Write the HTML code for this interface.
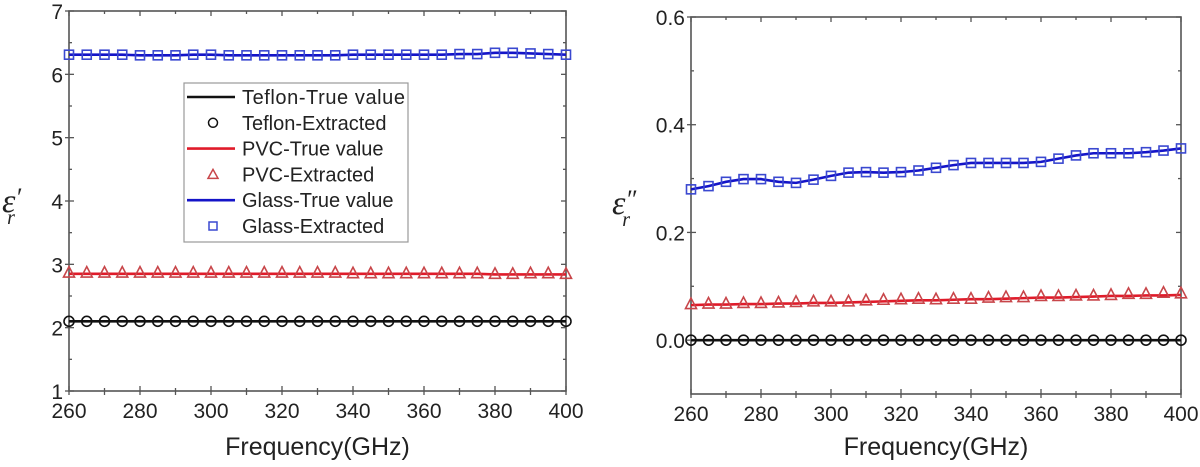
<!DOCTYPE html>
<html><head><meta charset="utf-8">
<style>
html,body{margin:0;padding:0;background:#fff;}
svg{display:block;font-family:"Liberation Sans",Arial,sans-serif;}
</style></head>
<body>
<svg id="fig" width="1200" height="467" viewBox="0 0 1200 467" xmlns="http://www.w3.org/2000/svg">
<g id="p1"></g>
<g id="p2"></g>
<g id="legend"></g>
</svg>
<script>
const freqs = [260,265,270,275,280,285,290,295,300,305,310,315,320,325,330,335,340,345,350,355,360,365,370,375,380,385,390,395,400];
const teflonReal = [2.1,2.1,2.1,2.1,2.1,2.1,2.1,2.1,2.1,2.1,2.1,2.1,2.1,2.1,2.1,2.1,2.1,2.1,2.1,2.1,2.1,2.1,2.1,2.1,2.1,2.1,2.1,2.1,2.1];
const pvcRealTrue = [2.85,2.85,2.85,2.85,2.85,2.85,2.85,2.85,2.85,2.85,2.85,2.85,2.85,2.85,2.85,2.85,2.85,2.85,2.85,2.85,2.85,2.85,2.85,2.85,2.84,2.84,2.84,2.84,2.84];
const pvcRealExt = [2.87,2.87,2.87,2.87,2.87,2.87,2.87,2.87,2.87,2.87,2.87,2.87,2.87,2.87,2.87,2.87,2.86,2.86,2.86,2.86,2.86,2.86,2.86,2.86,2.85,2.85,2.86,2.86,2.85];
const glassReal = [6.31,6.31,6.31,6.31,6.30,6.30,6.30,6.31,6.31,6.30,6.30,6.30,6.30,6.30,6.30,6.30,6.31,6.31,6.31,6.31,6.31,6.31,6.32,6.32,6.34,6.34,6.33,6.32,6.31];
const teflonImag = [0,0,0,0,0,0,0,0,0,0,0,0,0,0,0,0,0,0,0,0,0,0,0,0,0,0,0,0,0];
const pvcImagTrue = [0.065,0.066,0.066,0.067,0.067,0.068,0.068,0.069,0.069,0.070,0.071,0.072,0.073,0.074,0.074,0.075,0.076,0.076,0.077,0.078,0.079,0.079,0.080,0.081,0.082,0.082,0.083,0.083,0.084];
const pvcImagExt = [0.067,0.068,0.068,0.069,0.069,0.070,0.071,0.072,0.072,0.072,0.074,0.075,0.076,0.077,0.076,0.077,0.077,0.079,0.080,0.080,0.082,0.082,0.083,0.083,0.084,0.086,0.086,0.088,0.087];
const glassImag = [0.280,0.286,0.294,0.299,0.299,0.294,0.292,0.298,0.305,0.311,0.312,0.311,0.312,0.315,0.320,0.325,0.329,0.329,0.329,0.329,0.331,0.337,0.343,0.347,0.347,0.347,0.349,0.352,0.356];
const xTicks = [260,280,300,320,340,360,380,400];
const yTicks1 = [1,2,3,4,5,6,7];
const yTicks2 = [0.0,0.2,0.4,0.6];
const yTickLabels2 = ["0.0","0.2","0.4","0.6"];
const legendLabels = ["Teflon-True value","Teflon-Extracted","PVC-True value","PVC-Extracted","Glass-True value","Glass-Extracted"];

const NS="http://www.w3.org/2000/svg";
function mk(parent,tag,attrs,text){const e=document.createElementNS(NS,tag);for(const k in attrs)e.setAttribute(k,attrs[k]);if(text!==undefined)e.textContent=text;parent.appendChild(e);return e;}
const BLK="#111", RED="#e01b2a", REDM="#c8464a", BLUE="#1414c8", BLUEM="#3a48d0";

function panel(g,cfg){
  const {x0,x1,y0,y1,ymin,ymax}=cfg;
  const X=v=>x0+(v-260)/(400-260)*(x1-x0);
  const Y=v=>y1-(v-ymin)/(ymax-ymin)*(y1-y0);
  const fr=mk(g,'rect',{x:x0,y:y0,width:x1-x0,height:y1-y0,fill:'none',stroke:'#555','stroke-width':1.6});
  
  
  for(let f=260;f<=400;f+=10){
    const L=(f%20===0)?5:3;
    mk(g,'line',{x1:X(f),x2:X(f),y1:y1+4,y2:y1-L,stroke:'#555','stroke-width':1.3});
    mk(g,'line',{x1:X(f),x2:X(f),y1:y0,y2:y0+L,stroke:'#555','stroke-width':1.3});
  }
  xTicks.forEach(t=>{
    const tl=mk(g,'text',{x:X(t),y:y1+27,'font-size':21,'text-anchor':'middle',fill:'#222'},String(t));
    
    
  });
  cfg.minor.forEach(v=>{
    mk(g,'line',{x1:x0,x2:x0+3,y1:Y(v),y2:Y(v),stroke:'#555','stroke-width':1.3});
    mk(g,'line',{x1:x1,x2:x1-3,y1:Y(v),y2:Y(v),stroke:'#555','stroke-width':1.3});
  });
  cfg.yt.forEach((v,i)=>{
    mk(g,'line',{x1:x0-4,x2:x0+5,y1:Y(v),y2:Y(v),stroke:'#555','stroke-width':1.3});
    mk(g,'line',{x1:x1,x2:x1-5,y1:Y(v),y2:Y(v),stroke:'#555','stroke-width':1.3});
    const tl=mk(g,'text',{x:x0-6,y:Y(v)+8,'font-size':21,'text-anchor':'end',fill:'#222'},cfg.ytl[i]);
    
    
  });
  const xt=mk(g,'text',{x:(x0+x1)/2,y:455,'font-size':25,'text-anchor':'middle',fill:'#222'},'Frequency(GHz)');
  
  
  const yt=mk(g,'text',{x:cfg.lx,y:cfg.ly,'font-size':34,'font-style':'italic','font-family':'Liberation Serif, serif',fill:'#222'});
  
  
  mk(yt,'tspan',{},'ε');
  mk(yt,'tspan',{dy:-6,'font-size':26},cfg.prime);
  mk(yt,'tspan',{dx:-14,dy:18,'font-size':20},'r');
  const series=[[cfg.tT,cfg.tE,BLK,BLK,'circle'],[cfg.pT,cfg.pE,RED,REDM,'tri'],[cfg.gT,cfg.gE,BLUE,BLUEM,'sq']];
  series.forEach(([tv,ev,lc,mc,shape],si)=>{
    const nm=['teflon','pvc','glass'][si];
    const pl=mk(g,'polyline',{points:freqs.map((f,i)=>X(f)+','+Y(tv[i])).join(' '),fill:'none',stroke:lc,'stroke-width':2.6});
    
    
    freqs.forEach((f,i)=>{
      const cx=X(f),cy=Y(ev[i]);let m;
      if(shape==='circle')m=mk(g,'circle',{cx:cx,cy:cy,r:5,fill:'none',stroke:mc,'stroke-width':1.6});
      else if(shape==='tri')m=mk(g,'polygon',{points:`${cx},${cy-6} ${cx-5.5},${cy+4.5} ${cx+5.5},${cy+4.5}`,fill:'none',stroke:mc,'stroke-width':1.6});
      else m=mk(g,'rect',{x:cx-4.5,y:cy-4.5,width:9,height:9,fill:'none',stroke:mc,'stroke-width':1.6});
      
      
    });
  });
}
panel(document.getElementById('p1'),{x0:69,x1:566,y0:11,y1:391,ymin:1,ymax:7,yt:yTicks1,ytl:yTicks1.map(String),minor:[1.5,2.5,3.5,4.5,5.5,6.5],
  tT:teflonReal,tE:teflonReal,pT:pvcRealTrue,pE:pvcRealExt,gT:glassReal,gE:glassReal,lx:2,ly:212,prime:'′'});
panel(document.getElementById('p2'),{x0:691,x1:1181,y0:17,y1:394,ymin:-0.1,ymax:0.6,yt:yTicks2,ytl:yTickLabels2,minor:[0.1,0.3,0.5],
  tT:teflonImag,tE:teflonImag,pT:pvcImagTrue,pE:pvcImagExt,gT:glassImag,gE:glassImag,lx:612,ly:214,prime:'″'});

const lg=document.getElementById('legend');
const box=mk(lg,'rect',{x:184,y:83,width:224,height:159,fill:'#fff',stroke:'#999','stroke-width':1.2});


const cols=[BLK,BLK,RED,REDM,BLUE,BLUEM];
legendLabels.forEach((lab,i)=>{
  const y=97+i*25.8;
  if(i%2===0){const l=mk(lg,'line',{x1:187,x2:235,y1:y,y2:y,stroke:cols[i],'stroke-width':2.6});}
  else if(i===1)mk(lg,'circle',{cx:213,cy:y,r:4.5,fill:'none',stroke:cols[i],'stroke-width':1.5});
  else if(i===3)mk(lg,'polygon',{points:`213,${y-5} 208,${y+4} 218,${y+4}`,fill:'none',stroke:cols[i],'stroke-width':1.5});
  else mk(lg,'rect',{x:209,y:y-4,width:8,height:8,fill:'none',stroke:cols[i],'stroke-width':1.5});
  const t=mk(lg,'text',{x:242,y:y+7,'font-size':20,fill:'#222',textLength:lab.length>16?163:0}, lab);
  if(lab.length<=16)t.removeAttribute('textLength');
  
  
});
</script>
</body></html>
